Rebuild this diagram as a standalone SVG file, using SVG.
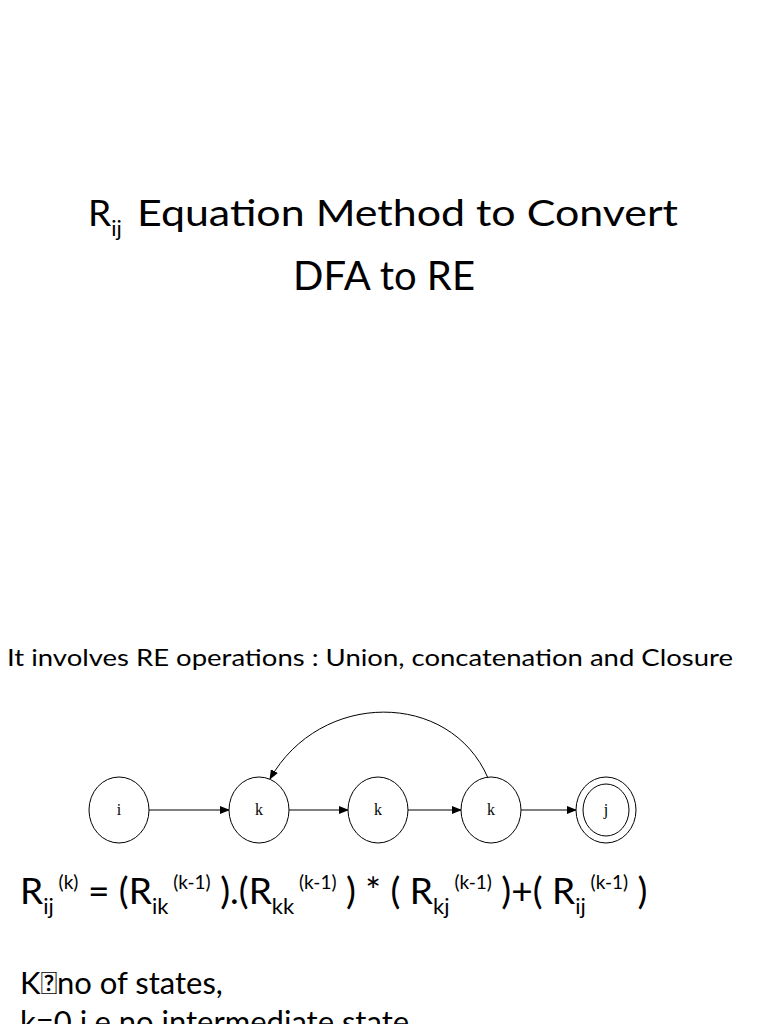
<svg xmlns="http://www.w3.org/2000/svg" width="768" height="1024" viewBox="0 0 768 1024">
<style>
.t{font-family:Lato,"Open Sans",sans-serif;fill:#000}
.n{fill:#fff;stroke:#000;stroke-width:1}
.l{font-family:"Liberation Serif",serif;font-size:16px;text-anchor:middle}
.e{stroke:#000;stroke-width:1;fill:none}
</style>
<defs><marker id="a" markerWidth="10" markerHeight="8" refX="9" refY="4" orient="auto" markerUnits="userSpaceOnUse"><path d="M0,0 L10,4 L0,8 z"/></marker></defs>
<rect width="768" height="1024" fill="#fff"/>
<text class="t" x="88" y="226" font-size="37">R<tspan font-size="22" dy="10">ij</tspan><tspan dy="-10" x="137" textLength="541" lengthAdjust="spacingAndGlyphs">Equation Method to Convert</tspan></text>
<text class="t" x="384" y="290" font-size="40" text-anchor="middle">DFA to RE</text>
<text class="t" x="7" y="666" font-size="24" textLength="726" lengthAdjust="spacingAndGlyphs">It involves RE operations : Union, concatenation and Closure</text>
<g id="connectors">
<line class="e" x1="149" y1="810" x2="229" y2="810" marker-end="url(#a)"/>
<line class="e" x1="289" y1="810" x2="348" y2="810" marker-end="url(#a)"/>
<line class="e" x1="408" y1="810" x2="461" y2="810" marker-end="url(#a)"/>
<line class="e" x1="521" y1="810" x2="576" y2="810" marker-end="url(#a)"/>
<path class="e" d="M488,778 C450,690 320,690 270,779" marker-end="url(#a)"/>
</g>
<g id="i"><ellipse class="n" cx="119" cy="810" rx="30" ry="33"/><text class="l" x="119" y="815">i</text></g>
<g id="k1"><ellipse class="n" cx="259" cy="810" rx="30" ry="33"/><text class="l" x="259" y="815">k</text></g>
<g id="k2"><ellipse class="n" cx="378" cy="810" rx="30" ry="33"/><text class="l" x="378" y="815">k</text></g>
<g id="k3"><ellipse class="n" cx="491" cy="810" rx="30" ry="33"/><text class="l" x="491" y="815">k</text></g>
<g id="j"><ellipse class="n" cx="606" cy="810" rx="30" ry="33"/><ellipse class="n" cx="606" cy="810" rx="23" ry="26"/><text class="l" x="606" y="815">j</text></g>
<text class="t" x="20" y="904" font-size="37">R<tspan font-size="22" dy="10">ij</tspan><tspan font-size="19" dy="-25"> (k)</tspan><tspan dy="15"> = (R</tspan><tspan font-size="22" dy="10">ik</tspan><tspan font-size="19" dy="-25"> (k-1)</tspan><tspan dy="15"> ).(R</tspan><tspan font-size="22" dy="10">kk</tspan><tspan font-size="19" dy="-25"> (k-1)</tspan><tspan dy="15"> ) * ( R</tspan><tspan font-size="22" dy="10">kj</tspan><tspan font-size="19" dy="-25"> (k-1)</tspan><tspan dy="15"> )+( R</tspan><tspan font-size="22" dy="10">ij</tspan><tspan font-size="19" dy="-25"> (k-1)</tspan><tspan dy="15"> )</tspan></text>
<text class="t" x="20" y="994" font-size="31">K&#xF0E0;no of states,</text>
<text class="t" x="20" y="1033" font-size="31">k=0 i.e no intermediate state</text>
</svg>
